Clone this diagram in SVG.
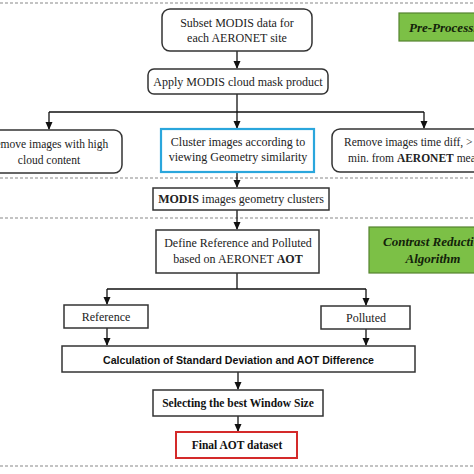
<svg xmlns="http://www.w3.org/2000/svg" width="474" height="474" viewBox="0 0 474 474">
<style>
.bg{fill:#ffffff}
.box{fill:#ffffff;stroke:#333333;stroke-width:1.5}
.blue{fill:#ffffff;stroke:#2aa6dc;stroke-width:2.2}
.red{fill:#ffffff;stroke:#d42a2a;stroke-width:2}
.green{fill:#7cc046;stroke:#55832f;stroke-width:1.2}
.t{font-family:"Liberation Serif","Times New Roman",serif;font-size:12px;fill:#222222}
.tn{font-family:"Liberation Serif","Times New Roman",serif;font-size:11.5px;fill:#222222}
.tb{font-family:"Liberation Serif","Times New Roman",serif;font-size:11.5px;font-weight:bold;fill:#111111}
.ts{font-family:"Liberation Sans",Arial,sans-serif;font-size:11px;font-weight:bold;fill:#111111}
.tg{font-family:"Liberation Serif","Times New Roman",serif;font-size:13px;font-weight:bold;font-style:italic;fill:#13230a}
.dash{stroke:#b0b0b0;stroke-width:1.5;stroke-dasharray:3 2;fill:none}
.ln{stroke:#111111;stroke-width:1.3;fill:none}
</style>
<defs>
<marker id="ah" viewBox="0 0 8 8" refX="7" refY="4" markerWidth="8" markerHeight="8" markerUnits="userSpaceOnUse" orient="auto">
<path d="M0,0.5 L8,4 L0,7.5 Z" fill="#111111"/>
</marker>
</defs>
<rect class="bg" x="0" y="0" width="474" height="474"/>
<g id="separators">
<line class="dash" x1="0" y1="3" x2="474" y2="3"/>
<line class="dash" x1="0" y1="178" x2="474" y2="178"/>
<line class="dash" x1="0" y1="218" x2="474" y2="218"/>
<line class="dash" x1="0" y1="466" x2="474" y2="466"/>
</g>
<g id="connectors">
<line class="ln" x1="237" y1="51" x2="237" y2="68" marker-end="url(#ah)"/>
<polyline class="ln" points="237,94 237,112"/>
<polyline class="ln" points="49,112 424,112"/>
<line class="ln" x1="49" y1="112" x2="49" y2="129" marker-end="url(#ah)"/>
<line class="ln" x1="237" y1="112" x2="237" y2="128" marker-end="url(#ah)"/>
<line class="ln" x1="424" y1="112" x2="424" y2="128" marker-end="url(#ah)"/>
<line class="ln" x1="237" y1="172" x2="237" y2="187" marker-end="url(#ah)"/>
<line class="ln" x1="237" y1="210" x2="237" y2="229" marker-end="url(#ah)"/>
<polyline class="ln" points="237,273 237,289"/>
<polyline class="ln" points="107,289 366,289"/>
<line class="ln" x1="107" y1="289" x2="107" y2="304" marker-end="url(#ah)"/>
<line class="ln" x1="366" y1="289" x2="366" y2="305" marker-end="url(#ah)"/>
<line class="ln" x1="107" y1="328" x2="107" y2="345" marker-end="url(#ah)"/>
<line class="ln" x1="366" y1="329" x2="366" y2="345" marker-end="url(#ah)"/>
<line class="ln" x1="238" y1="372" x2="238" y2="389" marker-end="url(#ah)"/>
<line class="ln" x1="238" y1="416" x2="238" y2="431" marker-end="url(#ah)"/>
</g>
<g id="pre-processing">
<rect class="green" x="399" y="13" width="100" height="28"/>
<text class="tg" x="409" y="32">Pre-Processing</text>
</g>
<g id="subset">
<rect class="box" x="162" y="9" width="150" height="42" rx="8"/>
<text class="t" x="237" y="27" text-anchor="middle">Subset MODIS data for</text>
<text class="t" x="237" y="42" text-anchor="middle">each AERONET site</text>
</g>
<g id="cloudmask">
<rect class="box" x="148" y="69" width="180" height="25" rx="6"/>
<text class="t" x="238" y="86" text-anchor="middle">Apply MODIS cloud mask product</text>
</g>
<g id="remove-cloud">
<rect class="box" x="-26" y="130" width="148" height="43" rx="8"/>
<text class="tn" x="48" y="148" text-anchor="middle">Remove images with high</text>
<text class="tn" x="49" y="164" text-anchor="middle">cloud content</text>
</g>
<g id="cluster">
<rect class="blue" x="161" y="129" width="153" height="43"/>
<text class="t" x="238" y="146" text-anchor="middle">Cluster images according to</text>
<text class="t" x="238" y="161" text-anchor="middle">viewing Geometry similarity</text>
</g>
<g id="remove-time">
<rect class="box" x="332" y="129" width="170" height="43" rx="8"/>
<text class="tn" x="344" y="146">Remove images time diff, &gt;</text>
<text class="tn" x="348" y="162">min. from <tspan font-weight="bold">AERONET</tspan> meas</text>
</g>
<g id="geometry-clusters">
<rect class="box" x="153" y="188" width="176" height="22"/>
<text class="t" x="241" y="203" text-anchor="middle"><tspan font-weight="bold">MODIS</tspan> images geometry clusters</text>
</g>
<g id="contrast-reduction">
<rect class="green" x="369" y="227" width="130" height="46"/>
<text class="tg" x="383" y="246">Contrast Reduction</text>
<text class="tg" x="433" y="263" text-anchor="middle">Algorithm</text>
</g>
<g id="define">
<rect class="box" x="156" y="230" width="163" height="43"/>
<text class="t" x="238" y="247" text-anchor="middle">Define Reference and Polluted</text>
<text class="t" x="238" y="263" text-anchor="middle">based on AERONET <tspan font-weight="bold">AOT</tspan></text>
</g>
<g id="reference">
<rect class="box" x="64" y="305" width="84" height="23"/>
<text class="t" x="106" y="321" text-anchor="middle">Reference</text>
</g>
<g id="polluted">
<rect class="box" x="321" y="306" width="89" height="23"/>
<text class="t" x="366" y="322" text-anchor="middle">Polluted</text>
</g>
<g id="calculation">
<rect class="box" x="62" y="346" width="353" height="26"/>
<text class="ts" x="103" y="364" textLength="271" lengthAdjust="spacingAndGlyphs">Calculation of Standard Deviation and AOT Difference</text>
</g>
<g id="window">
<rect class="box" x="153" y="390" width="170" height="26"/>
<text class="tb" x="238" y="407" text-anchor="middle">Selecting the best Window Size</text>
</g>
<g id="final">
<rect class="red" x="176" y="432" width="121" height="26"/>
<text class="tb" x="237" y="449" text-anchor="middle">Final AOT dataset</text>
</g>
</svg>
